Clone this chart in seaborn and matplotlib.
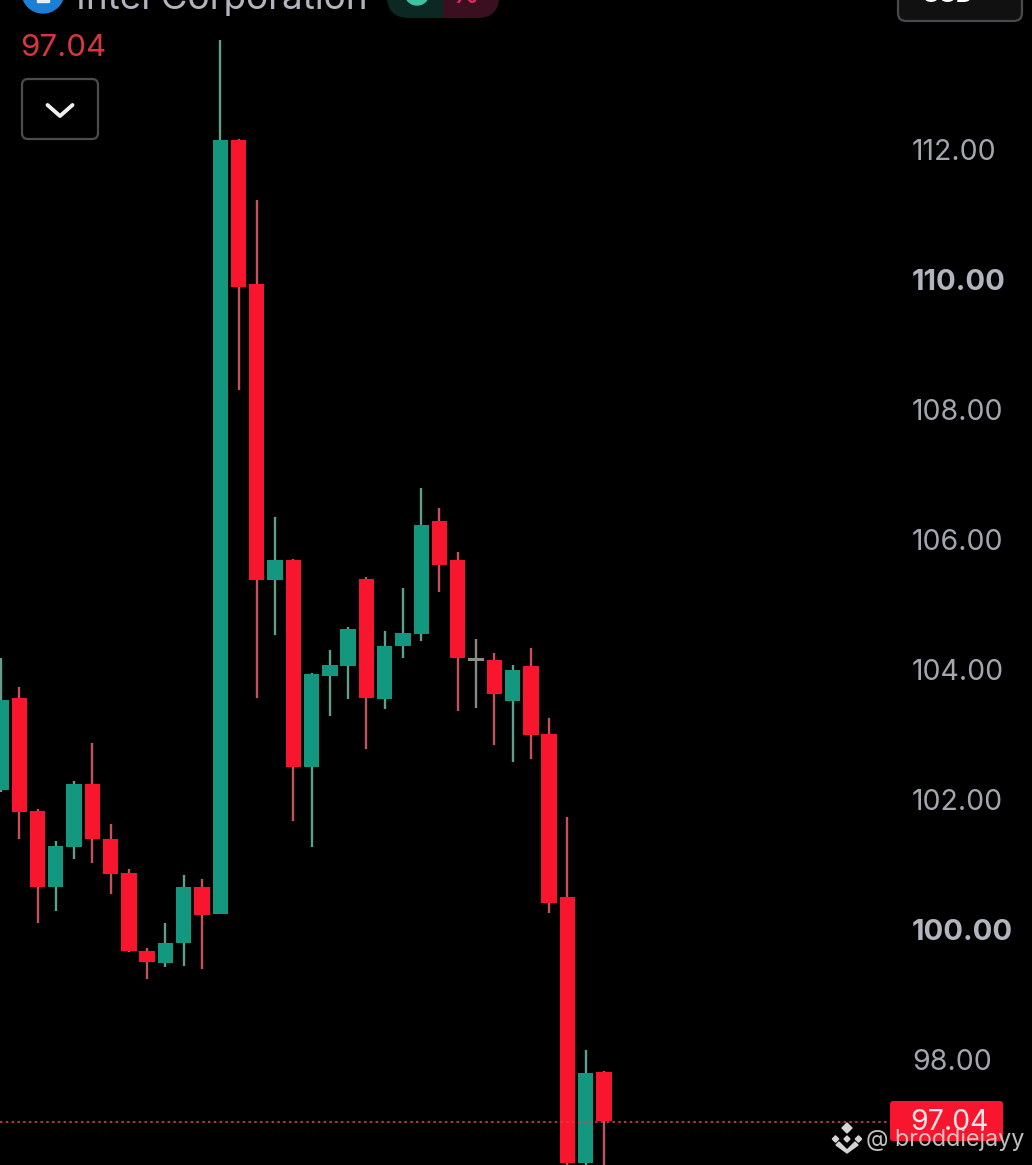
import numpy as np
import pandas as pd
import matplotlib
matplotlib.use('Agg')
import matplotlib.pyplot as plt
from matplotlib.patches import FancyBboxPatch, Circle, Polygon, Rectangle
import seaborn as sns

# OHLC values
opens = [102.15, 103.57, 101.83, 100.66, 101.28, 102.25, 101.40, 100.88, 99.68, 99.49, 99.80, 100.66,
         100.25, 112.15, 109.94, 105.38, 105.69, 102.51, 103.91, 104.06, 105.40, 103.55, 104.37, 104.55,
         106.29, 105.69, 104.18, 104.15, 103.52, 104.06, 103.02, 100.51, 96.42, 97.82]
closes = [103.54, 101.82, 100.66, 101.29, 102.25, 101.40, 100.86, 99.68, 99.51, 99.80, 100.66, 100.23,
          112.15, 109.89, 105.38, 105.69, 102.51, 103.94, 104.08, 104.63, 103.57, 104.37, 104.57, 106.23,
          105.62, 104.18, 104.14, 103.63, 104.00, 103.00, 100.42, 96.42, 97.80, 97.06]
highs = [104.18, 103.74, 101.86, 101.37, 102.29, 102.88, 101.63, 100.94, 99.72, 100.11, 100.85, 100.78,
         113.69, 112.17, 111.23, 106.35, 105.71, 103.95, 104.31, 104.66, 105.43, 104.60, 105.26, 106.80,
         106.49, 105.82, 104.48, 104.26, 104.08, 104.34, 103.26, 101.74, 98.15, 97.83]
lows = [102.12, 101.40, 100.11, 100.29, 101.09, 101.03, 100.55, 99.66, 99.25, 99.43, 99.45, 99.40,
        100.25, 108.31, 103.57, 104.54, 101.68, 101.28, 103.29, 103.55, 102.78, 103.40, 104.18, 104.45,
        105.20, 103.37, 103.42, 102.85, 102.58, 102.63, 100.26, 96.37, 96.37, 96.31]
doji_index = 26
last_price = 97.04
tick_values = [112, 110, 108, 106, 104, 102, 100, 98]
bold_ticks = [110, 100]

GREEN = '#14977f'
RED = '#f8162f'
GREY = '#8b8f88'
WICKS = {'up': '#5f9f8c', 'down': '#c4525d', 'doji': '#858a82'}
BODIES = {'up': GREEN, 'down': RED, 'doji': GREY}
LABEL = '#b2b5be'

sns.set_theme(style='dark')
plt.rcParams['font.family'] = ['Inter', 'DejaVu Sans']
plt.rcParams['figure.facecolor'] = 'black'
plt.rcParams['axes.facecolor'] = 'black'

df = pd.DataFrame({'i': np.arange(len(opens)), 'open': opens, 'close': closes, 'high': highs, 'low': lows})
df['kind'] = np.where(df['close'] >= df['open'], 'up', 'down')
df.loc[doji_index, 'kind'] = 'doji'
df['base'] = df[['open', 'close']].min(axis=1)
df['height'] = (df['close'] - df['open']).abs()

fig = plt.figure(figsize=(10.32, 11.65), dpi=100)
ax = fig.add_axes([0, 0, 1, 1])

# wicks
wicks = df.melt(id_vars=['i', 'kind'], value_vars=['low', 'high'], value_name='price')
sns.lineplot(data=wicks, x='i', y='price', units='i', hue='kind', palette=WICKS, estimator=None,
             sort=False, linewidth=1.7, legend=False, ax=ax, solid_capstyle='butt', zorder=2)

# bodies
for kind, part in df.groupby('kind'):
    sns.barplot(x=part['i'].values, y=part['height'].values, bottom=part['base'].values, native_scale=True,
                width=0.84, color=BODIES[kind], saturation=1, linewidth=0, ax=ax, zorder=3)

# last price line
ax.axhline(last_price, xmax=890 / 1032, color='#d8404a', lw=1.3, ls=(0, (1.4, 1.8)), zorder=4, alpha=0.9)

ax.set_xlim(-1 / 18.27, 1031 / 18.27)
ax.set_ylim(112 - 1015 / 65, 112 + 150 / 65)
ax.set_xticks([])
ax.set_xlabel('')
ax.set_ylabel('')
ax.grid(False)
for s in ax.spines.values():
    s.set_visible(False)

ax.yaxis.tick_right()
ax.set_yticks(tick_values)
ax.set_yticklabels([f'{v:.2f}' for v in tick_values])
ax.tick_params(axis='y', length=0, pad=-86.5, labelcolor=LABEL, labelsize=20.5)
for lab, v in zip(ax.get_yticklabels(), tick_values):
    lab.set_ha('left')
    lab.set_fontweight('bold' if v in bold_ticks else 'normal')
    lab.set_fontsize(21 if v in bold_ticks else 20.5)
    lab.set_alpha(1 if v in bold_ticks else 0.92)

# overlay in pixel coordinates for the app chrome
ui = fig.add_axes([0, 0, 1, 1], facecolor='none')
ui.set_xlim(0, 1032)
ui.set_ylim(1165, 0)
ui.axis('off')


def box(x, y, w, h, r, **kw):
    ui.add_patch(FancyBboxPatch((x + r, y + r), w - 2 * r, h - 2 * r, boxstyle=f'round,pad={r}', **kw))


# header, cut off by the top edge
ui.add_patch(Circle((43, -8), 21, color='#1b7fd6'))
ui.add_patch(Rectangle((37, -8), 12, 10, color='#e8eef5'))
ui.text(76, -1, 'Intel Corporation', color=LABEL, fontsize=26.5, va='center', ha='left')
box(387, -40, 112, 58, 22, fc='#0b2822', ec='none')
right = FancyBboxPatch((409, -18), 68, 14, boxstyle='round,pad=22', fc='#3a0f1f', ec='none')
ui.add_patch(right)
right.set_clip_path(Rectangle((443, -50), 70, 80, transform=ui.transData))
ui.add_patch(Circle((417, -7), 12, color='#3fc2a2'))
ui.text(465, -4, '%', color='#e8285f', fontsize=20, ha='center', va='center', fontweight='bold')
box(898, -30, 124, 51, 8, fc='#111111', ec='#4a4a4c', lw=1.6)
ui.text(948, -5, 'USD', color='white', fontsize=18, ha='center', va='center', fontweight='bold')

# price + dropdown
ui.text(20, 48, f'{last_price:.2f}', color='#d8363e', fontsize=22.5, ha='left', va='center')
box(22, 79, 76, 60, 6, fc='black', ec='#4c4c4c', lw=1.6)
ui.plot([47.5, 60, 72.5], [105, 116, 105], color='#f0f0f0', lw=2.8, solid_capstyle='round')

# last price tag
box(890, 1101, 113, 40, 3, fc=RED, ec='none', zorder=5)
ui.text(950, 1123, f'{last_price:.2f}', color='#f5e6e8', fontsize=20.5, ha='center', va='center', zorder=6)

# watermark
wm = '#d4d4d4'
for cx, cy, r in [(847, 1128, 5), (835.5, 1139, 3.2), (858.5, 1139, 3.2), (847, 1139, 3)]:
    ui.add_patch(Polygon([(cx - r, cy), (cx, cy - r), (cx + r, cy), (cx, cy + r)], color=wm, zorder=7))
ui.add_patch(Polygon([(839, 1142), (847, 1150), (855, 1142), (858, 1145), (847, 1153), (836, 1145)],
                     color=wm, zorder=7))
ui.text(866, 1140, '@ broddiejayy', color=wm, fontsize=16.8, ha='left', va='center', zorder=7, alpha=0.9)

fig.savefig('out.png', dpi=100, facecolor='black')
